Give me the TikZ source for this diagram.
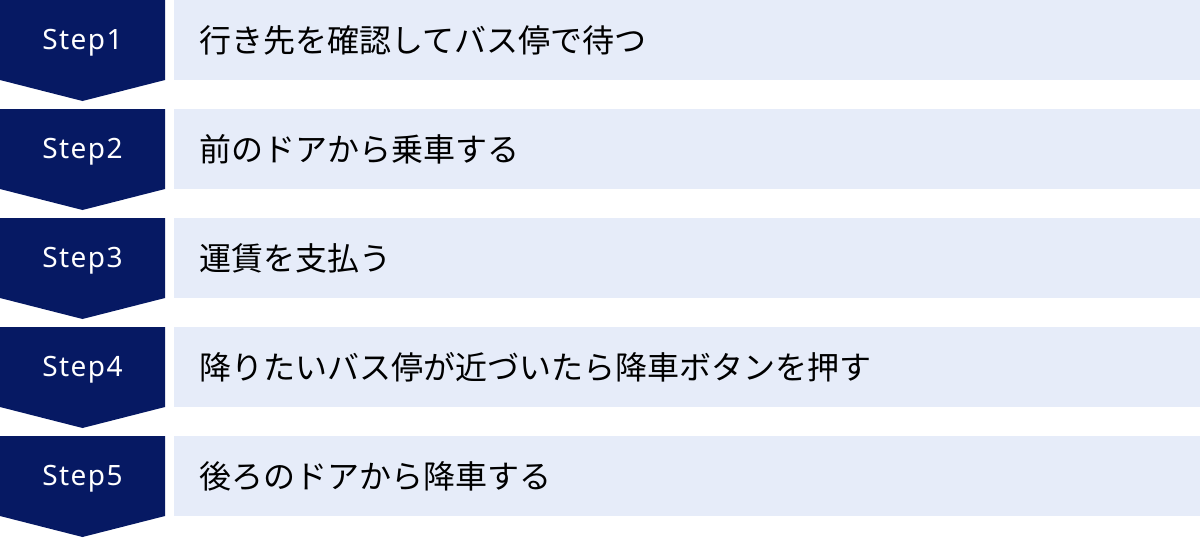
\documentclass[tikz,border=0pt]{standalone}
\usepackage{fontspec}
\setmainfont{Noto Sans CJK JP}
\newfontfamily\stepfont[LetterSpace=5]{Noto Sans}
\definecolor{stepnavy}{HTML}{061963}
\definecolor{tasklight}{HTML}{E6ECF9}
\tikzset{
  stepshape/.style={fill=stepnavy},
  taskbox/.style={fill=tasklight, minimum width=1026pt, minimum height=80pt, anchor=north west, inner sep=0pt},
  steplabel/.style={text=white, inner sep=0pt, font=\stepfont\fontsize{28}{28}\selectfont},
  tasklabel/.style={text=black, anchor=west, inner sep=0pt, font=\fontsize{32}{32}\selectfont}
}

\begin{document}
\begin{tikzpicture}[x=1pt,y=-1pt]
        \useasboundingbox (0,0) rectangle (1200,538);
        \fill[stepshape] (0,0) -- (165,0) -- (165,80) -- (82.5,101) -- (0,80) -- cycle;
        \fill[stepshape] (0,109) -- (165,109) -- (165,189) -- (82.5,210) -- (0,189) -- cycle;
        \fill[stepshape] (0,218) -- (165,218) -- (165,298) -- (82.5,319) -- (0,298) -- cycle;
        \fill[stepshape] (0,327) -- (165,327) -- (165,407) -- (82.5,428) -- (0,407) -- cycle;
        \fill[stepshape] (0,436) -- (165,436) -- (165,516) -- (82.5,537) -- (0,516) -- cycle;
        \node[taskbox] (task1) at (174,0) {};
        \node[taskbox] (task2) at (174,109) {};
        \node[taskbox] (task3) at (174,218) {};
        \node[taskbox] (task4) at (174,327) {};
        \node[taskbox] (task5) at (174,436) {};
        \node[steplabel] (step1) at (82.5,43) {Step1};
        \node[steplabel] (step2) at (82.5,152) {Step2};
        \node[steplabel] (step3) at (82.5,261) {Step3};
        \node[steplabel] (step4) at (82.5,370) {Step4};
        \node[steplabel] (step5) at (82.5,479) {Step5};
        \node[tasklabel] (text1) at (task1.west) [xshift=25pt] {行き先を確認してバス停で待つ};
        \node[tasklabel] (text2) at (task2.west) [xshift=25pt] {前のドアから乗車する};
        \node[tasklabel] (text3) at (task3.west) [xshift=25pt] {運賃を支払う};
        \node[tasklabel] (text4) at (task4.west) [xshift=25pt] {降りたいバス停が近づいたら降車ボタンを押す};
        \node[tasklabel] (text5) at (task5.west) [xshift=25pt] {後ろのドアから降車する};
\end{tikzpicture}
\end{document}
